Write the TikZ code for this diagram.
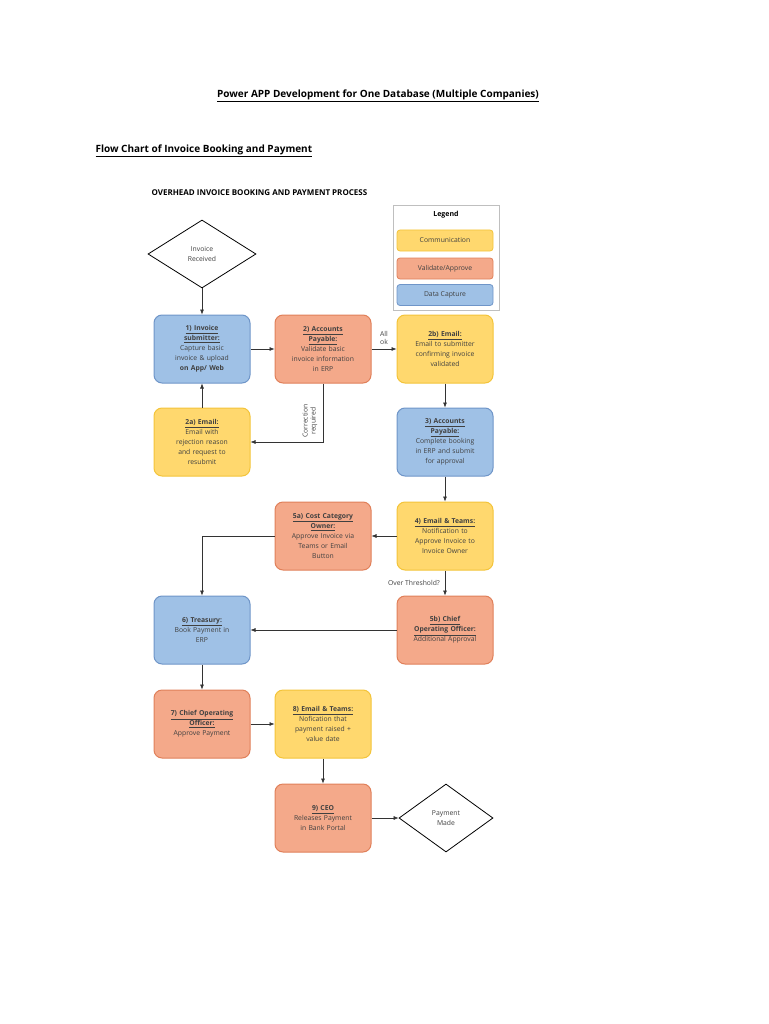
\documentclass[tikz,border=0pt]{standalone}
\usepackage{fontspec}
\setmainfont{Open Sans}
\usetikzlibrary{shapes.geometric,arrows.meta}
\definecolor{bfill}{HTML}{9FC1E6}\definecolor{bdraw}{HTML}{6F95C8}
\definecolor{ofill}{HTML}{F4A98A}\definecolor{odraw}{HTML}{E0805A}
\definecolor{yfill}{HTML}{FFD86E}\definecolor{ydraw}{HTML}{F3C43A}
\definecolor{txt}{HTML}{404040}
\begin{document}
\begin{tikzpicture}[x=1pt,y=-1pt,
 box/.style={rounded corners=8pt,line width=1pt,minimum width=96pt,minimum height=68pt,align=center,text width=90pt,font=\fontsize{6.8}{10}\selectfont,text=txt,inner sep=1pt},
 blue/.style={box,fill=bfill,draw=bdraw},
 org/.style={box,fill=ofill,draw=odraw},
 yel/.style={box,fill=yfill,draw=ydraw},
 leg/.style={rounded corners=3pt,line width=0.8pt,minimum width=96pt,minimum height=21pt,font=\fontsize{6.8}{8}\selectfont,text=txt},
 dia/.style={diamond,draw,line width=0.8pt,fill=white,aspect=1.6,inner sep=0pt,align=center,font=\fontsize{6.8}{10}\selectfont,text=txt},
 arr/.style={-{Latex[length=5pt,width=4pt]},line width=0.6pt,draw=black!80},
 lab/.style={font=\fontsize{6.8}{8}\selectfont,text=txt,align=center}]
\useasboundingbox (0,0) rectangle (768,1024);
\node[font=\bfseries\fontsize{10}{12}\selectfont] (t1) at (378,96) {\underline{Power APP Development for One Database (Multiple Companies)}};
\node[font=\bfseries\fontsize{10}{12}\selectfont,anchor=west] (t2) at (92,151) {\underline{Flow Chart of Invoice Booking and Payment}};
\node[font=\bfseries\fontsize{8}{10}\selectfont,anchor=west] (t3) at (148,193) {OVERHEAD INVOICE BOOKING AND PAYMENT PROCESS};
\node[draw=black!25,line width=0.8pt,minimum width=106pt,minimum height=105pt] (legbox) at (446,257.5) {};
\node[font=\bfseries\fontsize{7}{8}\selectfont] (legt) at (446,215) {Legend};
\node[leg,fill=yfill,draw=ydraw] (l1) at (445,240.5) {Communication};
\node[leg,fill=ofill,draw=odraw] (l2) at (445,268.5) {Validate/Approve};
\node[leg,fill=bfill,draw=bdraw] (l3) at (445,295) {Data Capture};
\node[dia,minimum width=108pt,minimum height=68pt] (d1) at (202,254) {Invoice\\Received};
\node[blue] (b1) at (202,349) {\textbf{\underline{1) Invoice}}\\\textbf{\underline{submitter:}}\\Capture basic\\invoice \& upload\\\textbf{on App/ Web}};
\node[org] (b2) at (323,349) {\textbf{\underline{2) Accounts}}\\\textbf{\underline{Payable:}}\\Validate basic\\invoice information\\in ERP};
\node[yel] (b2b) at (445,349) {\textbf{\underline{2b) Email:}}\\Email to submitter\\confirming invoice\\validated};
\node[yel] (b2a) at (202,442) {\textbf{\underline{2a) Email:}}\\Email with\\rejection reason\\and request to\\resubmit};
\node[blue] (b3) at (445,442) {\textbf{\underline{3) Accounts}}\\\textbf{\underline{Payable:}}\\Complete booking\\in ERP and submit\\for approval};
\node[yel] (b4) at (445,536) {\textbf{\underline{4) Email \& Teams:}}\\Notification to\\Approve Invoice to\\Invoice Owner};
\node[org] (b5a) at (323,536) {\textbf{\underline{5a) Cost Category}}\\\textbf{\underline{Owner:}}\\Approve Invoice via\\Teams or Email\\Button};
\node[blue] (b6) at (202,630) {\textbf{\underline{6) Treasury:}}\\Book Payment in\\ERP};
\node[org] (b5b) at (445,630) {\textbf{\underline{5b) Chief}}\\\textbf{\underline{Operating Officer:}}\\Additional Approval};
\node[org] (b7) at (202,724) {\textbf{\underline{7) Chief Operating}}\\\textbf{\underline{Officer:}}\\Approve Payment};
\node[yel] (b8) at (323,724) {\textbf{\underline{8) Email \& Teams:}}\\Nofication that\\payment raised +\\value date};
\node[org] (b9) at (323,818) {\textbf{\underline{9) CEO}}\\Releases Payment\\in Bank Portal};
\node[dia,minimum width=94pt,minimum height=68pt] (d2) at (446,818) {Payment\\Made};
\draw[arr] (d1) -- (b1);
\draw[arr] (b1) -- (b2);
\draw[arr] (b2) -- node[lab,above=1pt] (lok) {All\\ok} (b2b);
\draw[arr] (b2.south) |- (b2a.east);
\node[lab,rotate=90] (lcor) at (310,421) {Correction\\required};
\draw[arr] (b2a) -- (b1);
\draw[arr] (b2b) -- (b3);
\draw[arr] (b3) -- (b4);
\draw[arr] (b4) -- (b5a);
\draw[arr] (b5a.west) -| (b6.north);
\draw[arr] (b4) -- (b5b);
\node[lab] (lov) at (414,583) {Over Threshold?};
\draw[arr] (b5b) -- (b6);
\draw[arr] (b6) -- (b7);
\draw[arr] (b7) -- (b8);
\draw[arr] (b8) -- (b9);
\draw[arr] (b9) -- (d2);
\end{tikzpicture}
\end{document}
